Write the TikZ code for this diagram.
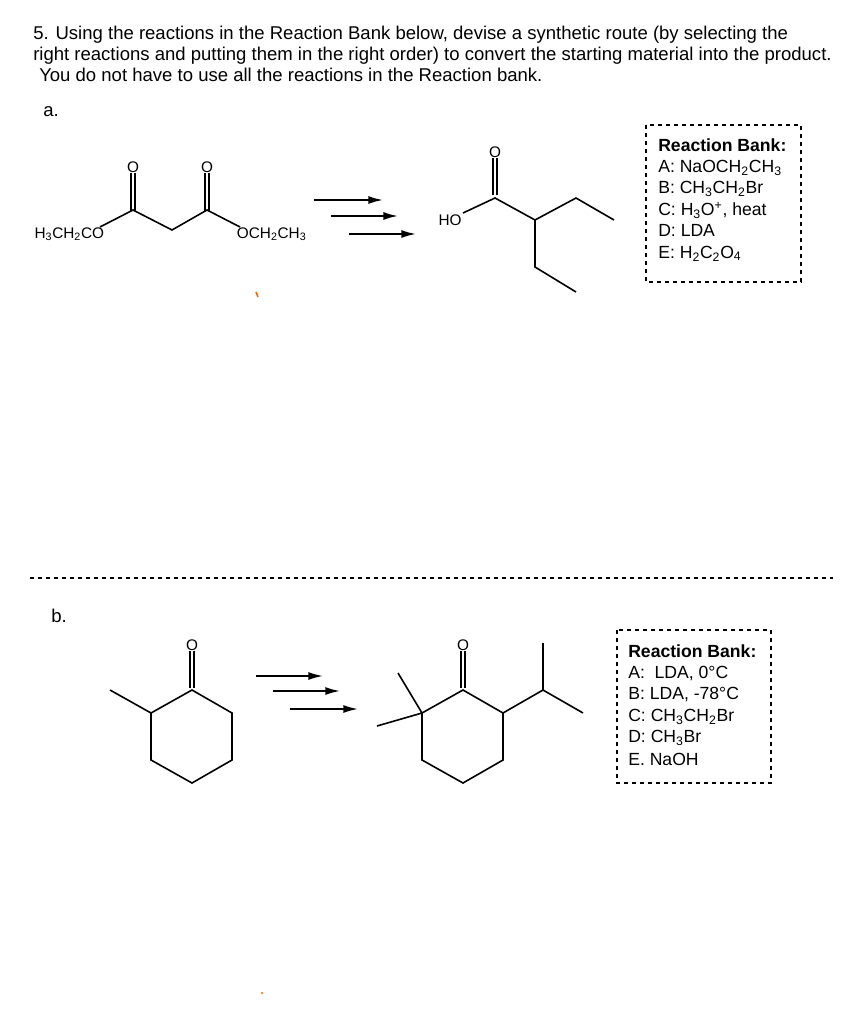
\documentclass[tikz,border=0pt]{standalone}
\usepackage{fontspec}
\setmainfont{Liberation Sans}
\newcommand{\sbs}[1]{\textsubscript{#1}}
\newcommand{\sps}[1]{\textsuperscript{#1}}
\begin{document}
\begin{tikzpicture}[x=0.75pt,y=-0.75pt,
  bond/.style={line width=1.2pt},
  rxn/.style={line width=1.3pt,-{Latex[length=11pt,width=6pt]}},
  txt/.style={font=\fontsize{13.9}{16}\selectfont,anchor=base west,inner sep=0},
  lab/.style={font=\fontsize{11.5}{13}\selectfont,inner sep=0.5pt},
  bank/.style={font=\fontsize{13.2}{15}\selectfont,anchor=base west,inner sep=0},
  dbox/.style={dashed,line width=0.9pt}]
\usetikzlibrary{arrows.meta}
\useasboundingbox (0,0) rectangle (867,1024);
\node[txt] (t1) at (33,40) {5. Using the reactions in the Reaction Bank below, devise a synthetic route (by selecting the};
\node[txt] (t2) at (33,61) {right reactions and putting them in the right order) to convert the starting material into the product.};
\node[txt] (t3) at (39,82) {You do not have to use all the reactions in the Reaction bank.};
\node[txt] (ta) at (43,116) {a.};
\node[txt] (tb) at (51,622) {b.};
% part a start
\node[lab,anchor=east] (L1) at (105,234) {H\sbs{3}CH\sbs{2}CO};
\node[lab,anchor=west] (L2) at (236,234) {OCH\sbs{2}CH\sbs{3}};
\node[lab] (O1) at (133,167) {O};
\node[lab] (O2) at (207,167) {O};
\coordinate (c1) at (133,210); \coordinate (m) at (172,230); \coordinate (c2) at (207,210);
\draw[bond] (100,227) -- (c1) -- (m) -- (c2) -- (240,227);
\draw[bond] (O1.south) ++(-2,0) -- ++(0,38) (O1.south) ++(2,0) -- ++(0,38);
\draw[bond] (O2.south) ++(-2,0) -- ++(0,38) (O2.south) ++(2,0) -- ++(0,38);
\coordinate (a1s) at (314,200); \coordinate (a1e) at (383,200);
\coordinate (a2s) at (331,216); \coordinate (a2e) at (398,216);
\coordinate (a3s) at (349,234); \coordinate (a3e) at (416,234);
\draw[rxn] (a1s) -- (a1e); \draw[rxn] (a2s) -- (a2e); \draw[rxn] (a3s) -- (a3e);
% product a
\node[lab] (HO) at (450,220) {HO};
\node[lab] (O3) at (495,152) {O};
\coordinate (k) at (495,198); \coordinate (ch) at (535,220);
\draw[bond] (463,213) -- (k) -- (ch) -- (576,198) -- (614,220);
\draw[bond] (ch) -- (535,267) -- (576,292);
\draw[bond] (O3.south) ++(-2,0) -- ++(0,37) (O3.south) ++(2,0) -- ++(0,37);
\draw[orange!80!red,line width=1.2pt] (256,292) -- (258,297);
% bank a
\draw[dbox] (646,125) rectangle (801,282);
\node[bank,font=\fontsize{13.2}{15}\selectfont\bfseries] (ba0) at (658,151) {Reaction Bank:};
\node[bank] (ba1) at (658,172) {A: NaOCH\sbs{2}CH\sbs{3}};
\node[bank] (ba2) at (658,193) {B: CH\sbs{3}CH\sbs{2}Br};
\node[bank] (ba3) at (658,215) {C: H\sbs{3}O\sps{+}, heat};
\node[bank] (ba4) at (658,236) {D: LDA};
\node[bank] (ba5) at (658,258) {E: H\sbs{2}C\sbs{2}O\sbs{4}};
% separator
\draw[dbox] (30,578) -- (833,578);
% part b start
\node[lab] (O4) at (192,645) {O};
\coordinate (r1) at (192,690); \coordinate (r2) at (232,713); \coordinate (r3) at (232,760);
\coordinate (r4) at (192,783); \coordinate (r5) at (151,760); \coordinate (r6) at (151,713);
\draw[bond] (r1) -- (r2) -- (r3) -- (r4) -- (r5) -- (r6) -- cycle;
\draw[bond] (r6) -- (110,690);
\draw[bond] (O4.south) ++(-2,0) -- ++(0,37) (O4.south) ++(2,0) -- ++(0,37);
\coordinate (b1s) at (256,676); \coordinate (b1e) at (323,676);
\coordinate (b2s) at (273,691); \coordinate (b2e) at (340,691);
\coordinate (b3s) at (290,709); \coordinate (b3e) at (358,709);
\draw[rxn] (b1s) -- (b1e); \draw[rxn] (b2s) -- (b2e); \draw[rxn] (b3s) -- (b3e);
% product b
\node[lab] (O5) at (463,645) {O};
\coordinate (p1) at (463,690); \coordinate (p2) at (503,713); \coordinate (p3) at (503,760);
\coordinate (p4) at (463,783); \coordinate (p5) at (422,760); \coordinate (p6) at (422,713);
\draw[bond] (p1) -- (p2) -- (p3) -- (p4) -- (p5) -- (p6) -- cycle;
\draw[bond] (p6) -- (398,673) (p6) -- (377,726);
\draw[bond] (p2) -- (543,690) -- (543,643) (543,690) -- (583,713);
\draw[bond] (O5.south) ++(-2,0) -- ++(0,37) (O5.south) ++(2,0) -- ++(0,37);
% bank b
\draw[dbox] (617,630) rectangle (771,783);
\node[bank,font=\fontsize{13.2}{15}\selectfont\bfseries] (bb0) at (628,657) {Reaction Bank:};
\node[bank] (bb1) at (628,678) {A:\ \ LDA, 0°C};
\node[bank] (bb2) at (628,699) {B: LDA, -78°C};
\node[bank] (bb3) at (628,721) {C: CH\sbs{3}CH\sbs{2}Br};
\node[bank] (bb4) at (628,742) {D: CH\sbs{3}Br};
\node[bank] (bb5) at (628,765) {E. NaOH};
\fill[orange!80!red] (262,993) circle (1.2);
\end{tikzpicture}
\end{document}
